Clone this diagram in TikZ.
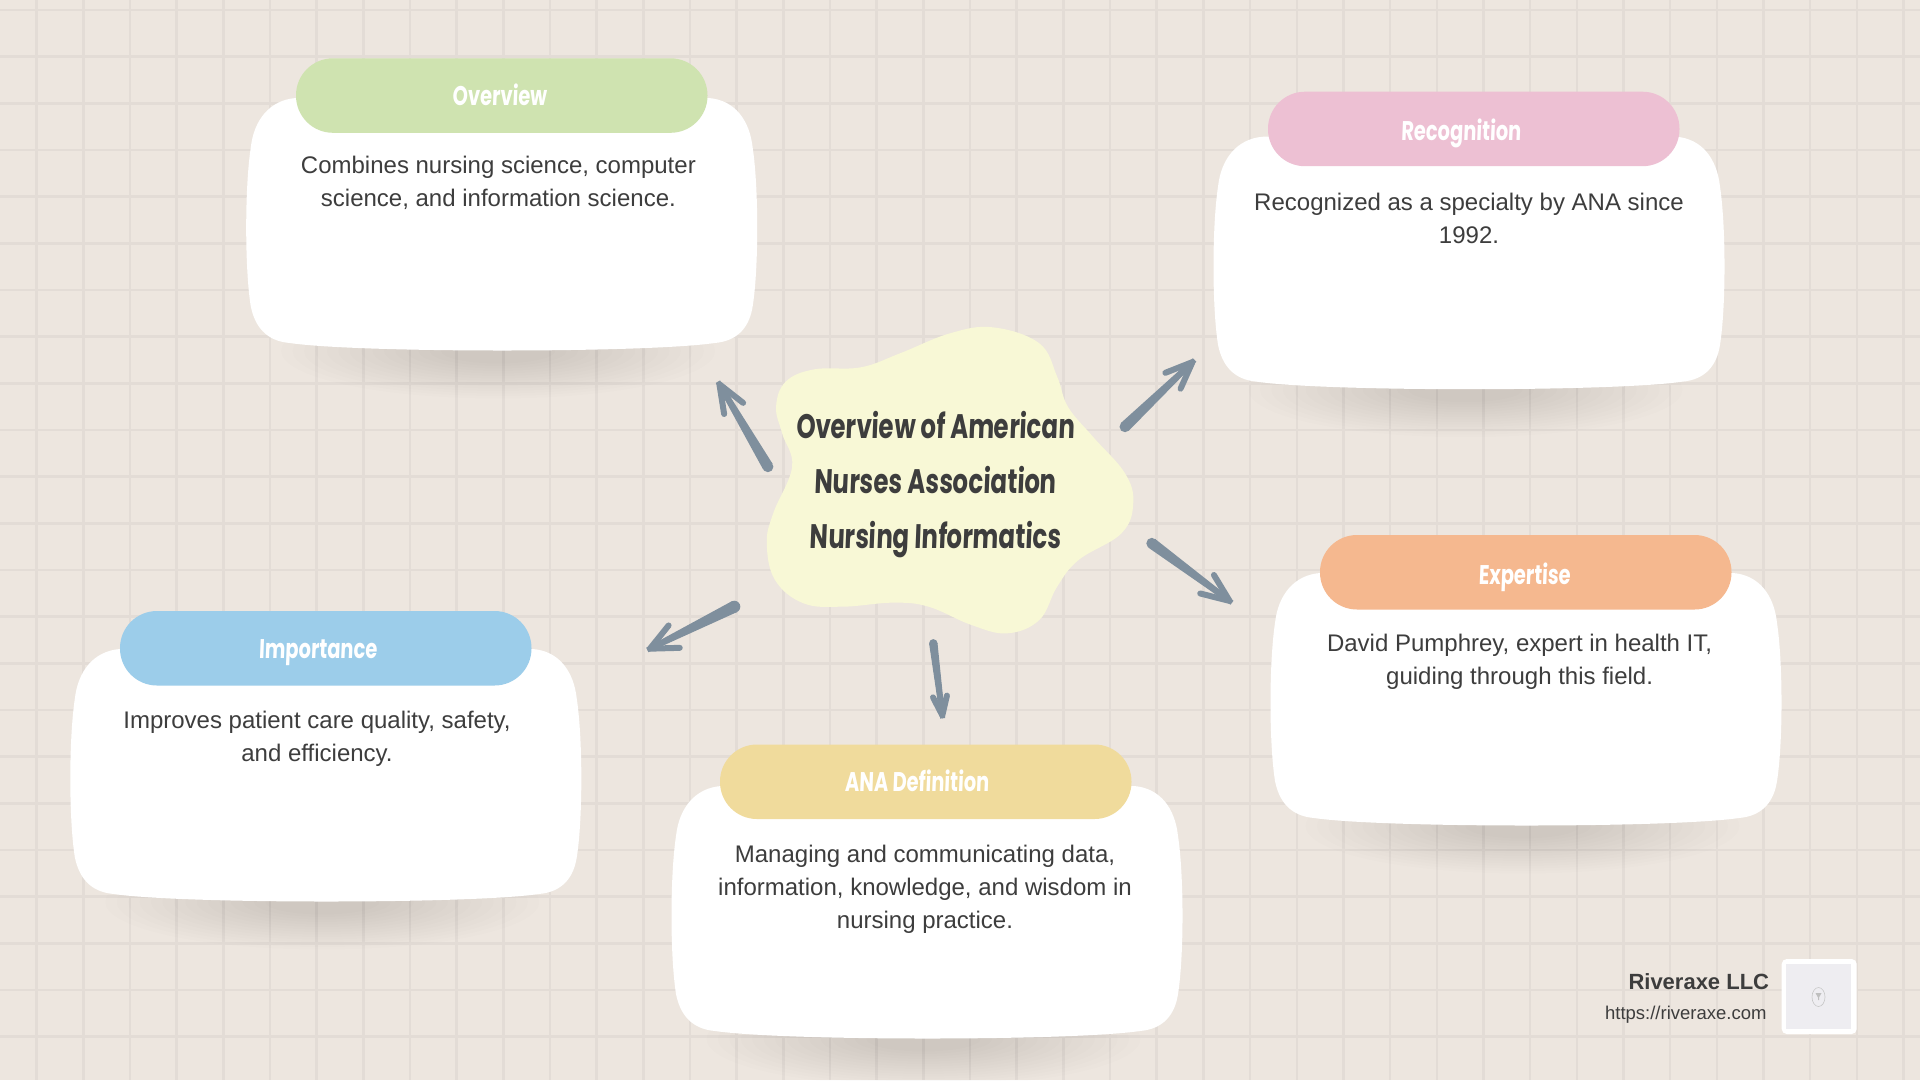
\documentclass[tikz,border=0pt]{standalone}
\usepackage{fontspec}
\usetikzlibrary{arrows.meta,calc}
\setmainfont{Liberation Sans}
\newfontfamily\handf[FakeStretch=0.72,FakeSlant=0.04]{Poppins Bold}
\definecolor{bgc}{HTML}{EDE6DF}
\definecolor{gridc}{HTML}{E3DCD6}
\definecolor{ink}{HTML}{3D3D3D}
\definecolor{arrowc}{HTML}{7F8F9D}
\definecolor{pgreen}{HTML}{CFE3B0}
\definecolor{ppink}{HTML}{EDC0D3}
\definecolor{porange}{HTML}{F5B88F}
\definecolor{pblue}{HTML}{9CCDEA}
\definecolor{pyellow}{HTML}{F0DB9C}
\definecolor{blobc}{HTML}{F8F8D6}
\tikzset{
  gridl/.style={draw=gridc,line width=2.6pt},
  pillbox/.style={rounded corners=37pt,draw=none},
  pilltext/.style={text=white,font=\handf\fontsize{27}{30}\selectfont,inner sep=0pt,text height=20pt,text depth=6pt},
  bodytext/.style={text=ink,font=\fontsize{24}{33}\selectfont,align=center,inner sep=0pt},
  titletext/.style={text=ink,font=\handf\fontsize{34}{40}\selectfont,inner sep=0pt,text height=26pt,text depth=8pt},
  conn/.style 2 args={draw=arrowc,line width=5.5pt,line cap=round,-{Straight Barb[round,length=#1,width=#2,line width=6pt]}},
}
\newcommand{\cardshape}[5]{% #1 card left, #2 card top, #3 pill left, #4 pill top, #5 colour
  \begin{scope}[shift={(#1,#2-40)},xscale=1.002]
    \foreach \s in {0.25,0.3,...,1.0}
      \fill[black,opacity=0.006] (252,293) ellipse ({228*\s} and {50*\s});
    \fill[white] (50,40) -- (462,40)
      .. controls (488,42) and (503,62) .. (506,90)
      .. controls (512,130) and (512,210) .. (506,248)
      .. controls (503,268) and (492,283) .. (468,285)
      .. controls (400,295) and (112,295) .. (44,285)
      .. controls (20,283) and (9,268) .. (5,248)
      .. controls (-1,210) and (-1,130) .. (5,90)
      .. controls (8,62) and (24,42) .. (50,40) -- cycle;
  \end{scope}
  \path[fill=#5,pillbox] (#3,#4) rectangle (#3+411.5,#4+74.5);
}
\newcommand{\shaft}[3]{% tapered body under a connector: start, end, half width at the start
  \fill[arrowc] ($(#1)!#3pt!90:(#2)$) -- ($(#2)!2.5pt!-90:(#1)$) -- ($(#2)!2.5pt!90:(#1)$) -- ($(#1)!#3pt!-90:(#2)$) -- cycle;
  \fill[arrowc] (#1) circle (#3);
}
\begin{document}
\begin{tikzpicture}[x=1pt,y=-1pt]
\useasboundingbox (0,0) rectangle (1920,1080);
\fill[bgc] (0,0) rectangle (1920,1080);
\foreach \k in {0,...,40} \draw[gridl] ({36.7+46.67*\k},0) -- ({36.7+46.67*\k},1080);
\foreach \k in {0,...,22} \draw[gridl] (0,{10+46.67*\k}) -- (1920,{10+46.67*\k});

\cardshape{245.7}{98}{296}{58.3}{pgreen}
\cardshape{1213}{136.7}{1268}{91.7}{ppink}
\cardshape{1270}{573}{1320}{535}{porange}
\cardshape{69.8}{649}{120}{611}{pblue}
\cardshape{671}{786}{720}{744.5}{pyellow}

\begin{scope}[shift={(700,310)},xscale=0.35714,yscale=0.33333]
\fill[blobc] plot[smooth cycle,tension=0.65] coordinates {
(820,52) (950,100) (1000,200) (1030,290) (1100,380) (1190,490) (1213,580) (1180,670)
(1060,750) (1000,830) (950,930) (860,970) (760,945) (640,890) (540,878) (400,890)
(290,880) (210,810) (187,700) (205,610) (258,470) (230,370) (213,290) (240,215)
(320,178) (450,172) (560,130) (700,70)};
\end{scope}

\node[titletext] (t1) at (935.5,429.5) {Overview of American};
\node[titletext] (t2) at (935.5,484.7) {Nurses Association};
\node[titletext] (t3) at (935.5,539.7) {Nursing Informatics};

\node[pilltext] (l1) at (499.6,98) {Overview};
\node[pilltext] (l2) at (1461,133.5) {Recognition};
\node[pilltext] (l3) at (1524.5,577) {Expertise};
\node[pilltext] (l4) at (318,651) {Importance};
\node[pilltext] (l5) at (917,784) {ANA Definition};

\node[bodytext] (b1) at (498.4,182.8) {Combines nursing science, computer\\science, and information science.};
\node[bodytext] (b2) at (1469,218.6) {Recognized as a specialty by ANA since\\1992.};
\node[bodytext] (b3) at (1519.6,662.1) {David Pumphrey, expert in health IT,\\guiding through this field.};
\node[bodytext] (b4) at (317,738.5) {Improves patient care quality, safety,\\and efficiency.};
\node[bodytext] (b5) at (925,888.8) {Managing and communicating data,\\information, knowledge, and wisdom in\\nursing practice.};

\coordinate (a1s) at (767.9,466.7); \coordinate (a1e) at (717.9,381.7);
\coordinate (a2s) at (1125,426.7);  \coordinate (a2e) at (1194.6,360);
\coordinate (a3s) at (1151.8,543.3);\coordinate (a3e) at (1232,602.7);
\coordinate (a4s) at (734.3,606.7); \coordinate (a4e) at (647.3,650);
\coordinate (a5s) at (933.3,643.3); \coordinate (a5e) at (942.7,718.3);
\shaft{a1s}{a1e}{5.5}
\shaft{a2s}{a2e}{5.5}
\shaft{a3s}{a3e}{5.5}
\shaft{a4s}{a4e}{6}
\shaft{a5s}{a5e}{4.2}
\draw[conn={28pt}{22pt}] (a1s) -- (a1e);
\draw[conn={27pt}{22pt}] (a2s) -- (a2e);
\draw[conn={28pt}{23pt}] (a3s) -- (a3e);
\draw[conn={27pt}{25pt}] (a4s) -- (a4e);
\draw[conn={19pt}{14pt}] (a5s) -- (a5e);

\node[anchor=base east,inner sep=0pt,text=ink,font=\bfseries\fontsize{22}{26}\selectfont] (brand) at (1769.3,989) {Riveraxe LLC};
\node[anchor=base east,inner sep=0pt,text=ink,font=\fontsize{18.5}{22}\selectfont] (url) at (1766.7,1019) {https://riveraxe.com};
\path[fill=white,rounded corners=5pt] (1781.7,959) rectangle (1856.7,1034);
\fill[color={rgb,255:red,238;green,237;blue,241}] (1786,964) rectangle (1851,1029);
\draw[black!22,line width=0.6pt] (1818.5,997) ellipse (6.5 and 9.5);
\fill[black!25] (1815.5,993) -- (1821.5,993) -- (1819,997.5) -- (1819,1000) -- (1818,1000) -- (1818,997.5) -- cycle;
\end{tikzpicture}
\end{document}
